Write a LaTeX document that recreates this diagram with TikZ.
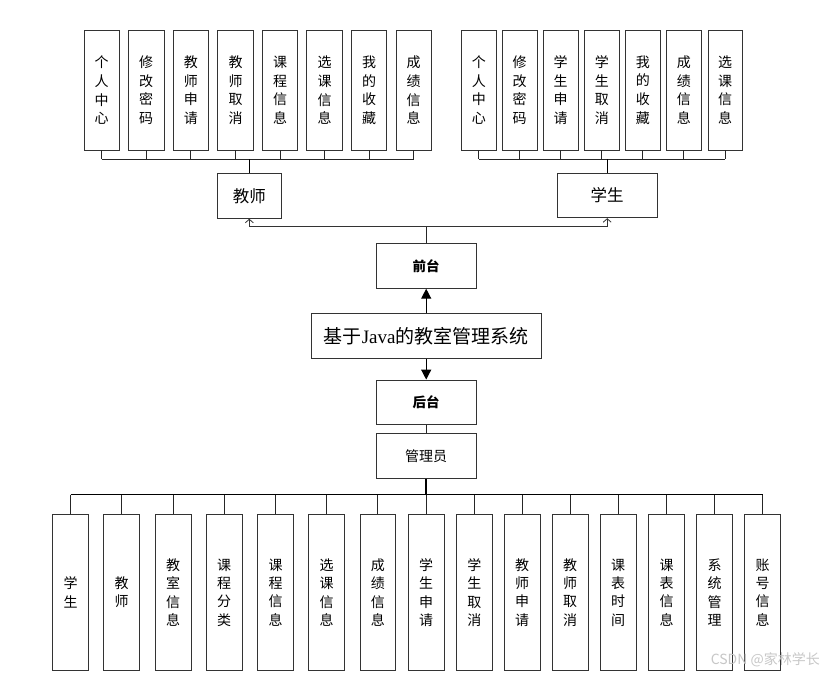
\documentclass[tikz,border=0pt]{standalone}
\usepackage{fontspec}
\setmainfont{Noto Sans CJK SC}
\newfontfamily\serifjava{Liberation Serif}
\usetikzlibrary{arrows.meta}
\tikzset{
  box/.style={draw=black!80, line width=0.9pt, fill=white, inner sep=0pt, align=center},
  tallbox/.style={box, minimum width=35.5pt, minimum height=119.5pt, font=\fontsize{14}{18.6}\selectfont},
  lowbox/.style={box, minimum width=35.6pt, minimum height=156.4pt, font=\fontsize{14}{18.3}\selectfont},
  midbox/.style={box, minimum width=100.3pt, minimum height=44.5pt},
  bus/.style={draw=black!85, line width=0.9pt},
  thickbus/.style={draw=black, line width=1.6pt},
  solidarrow/.style={draw=black, line width=1.3pt, -{Triangle[length=10pt,width=10pt]}},
  openarrow/.style={draw=black!80, line width=0.8pt, -{Straight Barb[length=3.5pt,width=8pt]}},
}
\begin{document}
\begin{tikzpicture}[x=1pt,y=-1pt]
\useasboundingbox (0,0) rectangle (832,676);
% ---------- top left (teacher) ----------
\foreach \n/\x/\t in {t1/101.7/个\\人\\中\\心, t2/146.2/修\\改\\密\\码, t3/190.8/教\\师\\申\\请, t4/235.5/教\\师\\取\\消, t5/280/课\\程\\信\\息, t6/324.5/选\\课\\信\\息, t7/369/我\\的\\收\\藏, t8/413.7/成\\绩\\信\\息}
  \node[tallbox] (\n) at (\x,90.3) {\t};
% ---------- top right (student) ----------
\foreach \n/\x/\t in {s1/478.8/个\\人\\中\\心, s2/519.7/修\\改\\密\\码, s3/560.7/学\\生\\申\\请, s4/601.8/学\\生\\取\\消, s5/642.8/我\\的\\收\\藏, s6/683.8/成\\绩\\信\\息, s7/725.2/选\\课\\信\\息}
  \node[tallbox, minimum width=34.5pt, minimum height=120pt] (\n) at (\x,90) {\t};
% ---------- middle ----------
\node[box, minimum width=63.3pt, minimum height=45pt, font=\fontsize{16.5}{18}\selectfont] (js) at (249.3,195.8) {教师};
\node[box, minimum width=99.7pt, minimum height=44.5pt, font=\fontsize{16.5}{18}\selectfont] (xs) at (607.2,195.5) {学生};
\node[midbox, font=\fontsize{13.5}{15}\selectfont\bfseries] (qt) at (426.2,266) {前台};
\node[box, minimum width=229.7pt, minimum height=44.3pt, font=\fontsize{19}{22}\selectfont] (sys) at (426.2,335.9) {基于{\serifjava Java}的教室管理系统};
\node[midbox, font=\fontsize{13.5}{15}\selectfont\bfseries] (ht) at (426.2,402.3) {后台};
\node[midbox, font=\fontsize{14}{16}\selectfont] (gly) at (426.2,455.9) {管理员};
% ---------- bottom (admin) ----------
\foreach \n/\x/\t in {a1/70.5/学\\生, a2/121.7/教\\师, a3/173.2/教\\室\\信\\息, a4/224.2/课\\程\\分\\类, a5/275.5/课\\程\\信\\息, a6/326.7/选\\课\\信\\息, a7/377.8/成\\绩\\信\\息, a8/426.2/学\\生\\申\\请, a9/474.3/学\\生\\取\\消, a10/522.2/教\\师\\申\\请, a11/570.2/教\\师\\取\\消, a12/618.2/课\\表\\时\\间, a13/666.5/课\\表\\信\\息, a14/714.5/系\\统\\管\\理, a15/762.5/账\\号\\信\\息}
  \node[lowbox] (\n) at (\x,592.5) {\t};
% ---------- connectors: teacher bus ----------
\coordinate (tb) at (249.3,159.3);
\foreach \n in {t1,t2,t3,t4,t5,t6,t7,t8}
  \draw[bus] (\n.south) -- (\n.south |- tb);
\draw[bus] (t1.south |- tb) -- (t8.south |- tb);
\draw[thickbus, line width=1.3pt] (tb) -- (js.north);
% ---------- connectors: student bus ----------
\coordinate (sb) at (607.2,159.3);
\foreach \n in {s1,s2,s3,s4,s5,s6,s7}
  \draw[bus] (\n.south) -- (\n.south |- sb);
\draw[bus] (s1.south |- sb) -- (s7.south |- sb);
\draw[thickbus, line width=1.3pt] (sb) -- (xs.north);
% ---------- front-end arrows ----------
\coordinate (fb) at (426.2,226);
\draw[bus] (qt.north) -- (fb);
\draw[openarrow] (fb) -| (js.south);
\draw[openarrow] (fb) -| (xs.south);
\draw[solidarrow] (sys.north) -- (qt.south);
\draw[solidarrow] (sys.south) -- (ht.north);
\draw[bus] (ht.south) -- (gly.north);
% ---------- admin bus ----------
\coordinate (ab) at (426.2,494.7);
\draw[thickbus] (gly.south) -- (ab);
\draw[thickbus, line width=1.3pt] (a1.north |- ab) -- (a15.north |- ab);
\foreach \n in {a1,a2,a3,a4,a5,a6,a7,a8,a9,a10,a11,a12,a13,a14,a15}
  \draw[bus] (\n.north |- ab) -- (\n.north);
% ---------- watermark ----------
\node[text=black!22, font=\fontsize{14}{16}\selectfont, anchor=east, inner sep=0pt] (wm) at (820,660) {CSDN @家林学长};
\end{tikzpicture}
\end{document}
